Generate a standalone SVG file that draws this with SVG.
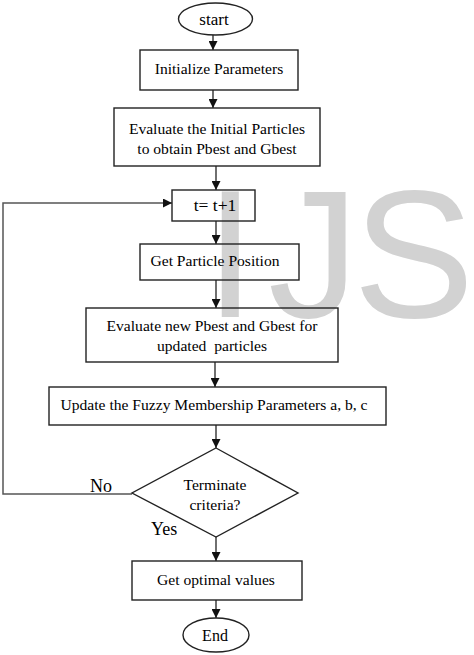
<svg xmlns="http://www.w3.org/2000/svg" width="474" height="655" viewBox="0 0 474 655">
<defs>
<marker id="ah" viewBox="0 0 10 10" refX="10" refY="5" markerWidth="9" markerHeight="9" markerUnits="userSpaceOnUse" orient="auto">
<path d="M0,0 L10,5 L0,10 z" fill="#111"/>
</marker>
<style>
.box{fill:none;stroke:#222;stroke-width:1.4}
.t{font-family:"Liberation Serif","Times New Roman",serif;font-size:15.6px;fill:#000;text-anchor:middle}
.lbl{font-family:"Liberation Serif","Times New Roman",serif;font-size:18px;fill:#000}
.ln{fill:none;stroke:#222;stroke-width:1.3}
.loop{fill:none;stroke:#555;stroke-width:1.5}
.wm{font-family:"Liberation Sans",Arial,sans-serif;font-size:182px;fill:#d2d2d2}
</style>
</defs>
<rect width="474" height="655" fill="#fff"/>
<text class="wm" y="317"><tspan x="205">I</tspan><tspan x="268">J</tspan><tspan x="353">S</tspan></text>
<g id="connectors">
<line class="ln" x1="213" y1="35" x2="213" y2="50" marker-end="url(#ah)"/>
<line class="ln" x1="213" y1="90" x2="213" y2="108" marker-end="url(#ah)"/>
<line class="ln" x1="216" y1="166" x2="216" y2="190" marker-end="url(#ah)"/>
<line class="ln" x1="216" y1="221" x2="216" y2="244" marker-end="url(#ah)"/>
<line class="ln" x1="216" y1="280" x2="216" y2="308" marker-end="url(#ah)"/>
<line class="ln" x1="215" y1="362" x2="215" y2="387" marker-end="url(#ah)"/>
<line class="ln" x1="216" y1="425" x2="216" y2="448" marker-end="url(#ah)"/>
<line class="ln" x1="216" y1="537" x2="216" y2="561" marker-end="url(#ah)"/>
<line class="ln" x1="216" y1="600" x2="216" y2="618" marker-end="url(#ah)"/>
<polyline class="loop" points="132,494 3,494 3,203 172,203" marker-end="url(#ah)"/>
<text class="lbl" x="90" y="492">No</text>
<text class="lbl" x="151" y="535">Yes</text>
</g>
<g id="start"><ellipse class="box" cx="215.5" cy="19" rx="37" ry="16"/><text class="t" x="214" y="25" style="font-size:17px">start</text></g>
<g id="init"><rect class="box" x="140" y="50" width="158" height="40"/><text class="t" x="219" y="74">Initialize Parameters</text></g>
<g id="evalInit"><rect class="box" x="114" y="108" width="206" height="58"/><text class="t" x="217" y="134">Evaluate the Initial Particles</text><text class="t" x="217" y="154">to obtain Pbest and Gbest</text></g>
<g id="tinc"><rect class="box" x="172" y="190" width="83" height="31"/><text class="t" x="215" y="211" style="font-size:17.5px">t= t+1</text></g>
<g id="getPos"><rect class="box" x="140" y="244" width="159" height="36"/><text class="t" x="215" y="266">Get Particle Position</text></g>
<g id="evalNew"><rect class="box" x="86" y="308" width="252" height="54"/><text class="t" x="212" y="331">Evaluate new Pbest and Gbest for</text><text class="t" x="212" y="351" style="white-space:pre">updated  particles</text></g>
<g id="update"><rect class="box" x="49" y="387" width="337" height="38"/><text class="t" x="214" y="410">Update the Fuzzy Membership Parameters a, b, c</text></g>
<g id="decision"><polygon class="box" points="216,448 298,493 216,537 132,493"/><text class="t" x="215" y="490">Terminate</text><text class="t" x="215" y="510">criteria?</text></g>
<g id="optimal"><rect class="box" x="132" y="561" width="170" height="39"/><text class="t" x="216" y="585">Get optimal values</text></g>
<g id="end"><ellipse class="box" cx="216" cy="635" rx="33" ry="17"/><text class="t" x="215" y="641" style="font-size:16px">End</text></g>
</svg>
